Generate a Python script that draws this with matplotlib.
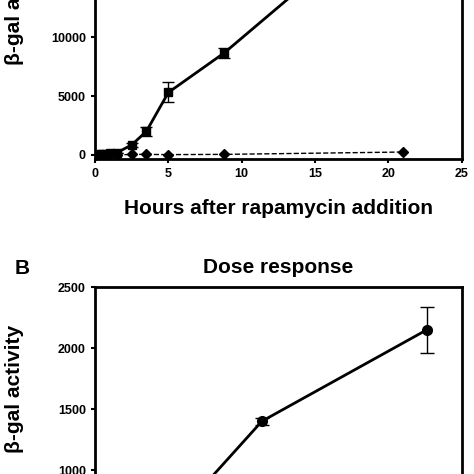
import matplotlib
matplotlib.use("Agg")
import matplotlib.pyplot as plt

plt.rcParams['font.family'] = ['Liberation Sans', 'DejaVu Sans']
plt.rcParams['font.weight'] = 'bold'

# panel A: time course
hours_rap = [0, 0.25, 0.5, 0.75, 1, 1.5, 2.5, 3.5, 5, 8.8, 21]
gal_rap = [0, 50, 80, 100, 150, 200, 850, 2000, 5300, 8650, 21500]
err_rap = [0, 0, 0, 0, 0, 0, 150, 400, 850, 400, 800]
hours_ctl = [0, 0.5, 1, 1.5, 2.5, 3.5, 5, 8.8, 21]
gal_ctl = [0, 0, 0, 0, 50, 50, 30, 50, 250]

# panel B: dose response
dose = [1.5, 2.9, 4.55, 9.05]
gal_dose = [400, 850, 1400, 2150]
err_dose = [0, 0, 30, 190]

fig = plt.figure(figsize=(4.74, 4.74), dpi=100)

ax1 = fig.add_axes([0.2004, 0.6656, 0.774, 0.505])
ax1.errorbar(hours_rap, gal_rap, yerr=err_rap, color='black', marker='s', ms=6,
             lw=2, capsize=4, elinewidth=1)
ax1.plot(hours_ctl, gal_ctl, color='black', marker='D', ms=5, lw=1, ls='--')
ax1.set_xlim(0, 25)
ax1.set_ylim(-300, 20000)
ax1.set_xticks([0, 5, 10, 15, 20, 25])
ax1.set_yticks([0, 5000, 10000, 15000])
ax1.set_xlabel('Hours after rapamycin addition', fontsize=15, fontweight='bold', labelpad=14)

ax2 = fig.add_axes([0.2004, -0.249, 0.774, 0.6435])
ax2.errorbar(dose, gal_dose, yerr=err_dose, color='black', marker='o', ms=7,
             lw=2, capsize=5, elinewidth=1)
ax2.set_xlim(0, 10)
ax2.set_ylim(0, 2500)
ax2.set_yticks([0, 500, 1000, 1500, 2000, 2500])
ax2.set_xticks([])
ax2.set_title('Dose response', fontsize=15, fontweight='bold', pad=10)

for ax in (ax1, ax2):
    for s in ax.spines.values():
        s.set_linewidth(2)
    ax.tick_params(labelsize=9, width=1.5, length=3)
    for lab in ax.get_xticklabels() + ax.get_yticklabels():
        lab.set_fontweight('bold')

fig.text(15/474, 1 - 65/474, 'β-gal activity', rotation=90, ha='center', va='bottom',
         fontsize=15, fontweight='bold')
fig.text(15/474, 1 - 325/474, 'β-gal activity', rotation=90, ha='center', va='top',
         fontsize=15, fontweight='bold')
fig.text(15/474, 1 - 268/474, 'B', ha='left', va='center', fontsize=15, fontweight='bold')

fig.savefig('out.png', dpi=100)
